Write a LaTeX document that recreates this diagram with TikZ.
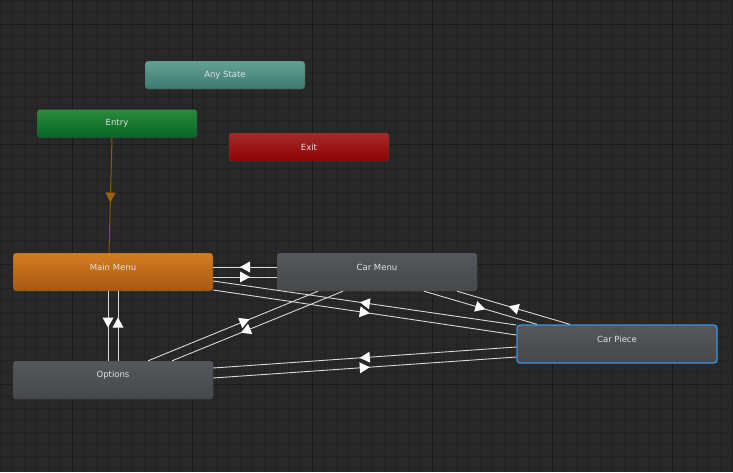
\documentclass[tikz,border=0pt]{standalone}
\usepackage{fontspec}
\setmainfont{DejaVu Sans}
\usetikzlibrary{arrows.meta,decorations.markings,calc}
\definecolor{bg}{HTML}{282828}
\definecolor{minor}{HTML}{222222}
\definecolor{major}{HTML}{1A1A1A}
\definecolor{txt}{HTML}{E2E2E2}
\definecolor{ln}{HTML}{D8D8D8}
\definecolor{anyT}{HTML}{62A393}\definecolor{anyB}{HTML}{3C7870}
\definecolor{entT}{HTML}{2C8A3C}\definecolor{entB}{HTML}{066626}
\definecolor{exT}{HTML}{A52A2A}\definecolor{exB}{HTML}{8E0404}
\definecolor{mmT}{HTML}{D47C22}\definecolor{mmB}{HTML}{A85912}
\definecolor{gT}{HTML}{54575B}\definecolor{gB}{HTML}{46494C}
\definecolor{glow}{HTML}{3A92E0}
\definecolor{entry}{HTML}{8A5A0A}
\tikzset{
  box/.style={rounded corners=3pt, minimum width=200pt, minimum height=38pt, inner sep=0pt, draw=black!70, line width=0.4pt},
  smallbox/.style={box, minimum width=160pt, minimum height=28pt},
  lbl/.style={text=txt, font=\fontsize{8.5}{10}\selectfont, inner sep=0pt},
  trans/.style={draw=ln, line width=0.9pt, postaction={decorate}, decoration={markings, mark=at position #1 with {\fill[white] (5pt,0) -- (-5pt,5.5pt) -- (-5pt,-5.5pt) -- cycle;}}},
  trans/.default=0.5
}
\begin{document}
\begin{tikzpicture}[x=1pt,y=-1pt]
\useasboundingbox (0,0) rectangle (733,472);
\fill[bg] (0,0) rectangle (733,472);
\foreach \i in {0,12,...,732} \draw[minor,line width=1pt] (\i,0) -- (\i,472);
\foreach \i in {0,12,...,468} \draw[minor,line width=1pt] (0,\i) -- (733,\i);
\foreach \i in {72,192,...,732} \draw[major,line width=1pt] (\i,0) -- (\i,472);
\foreach \i in {24,144,...,468} \draw[major,line width=1pt] (0,\i) -- (733,\i);

% nodes
\node[smallbox, top color=anyT, bottom color=anyB] (any) at (225,75) {};
\node[lbl] (anyt) at (225,75) {Any State};
\node[smallbox, top color=entT, bottom color=entB] (entry) at (117,123.5) {};
\node[lbl] (entryt) at (117,123.5) {Entry};
\node[smallbox, top color=exT, bottom color=exB] (exit) at (309,147) {};
\node[lbl] (exitt) at (309,147) {Exit};

\node[box, top color=mmT, bottom color=mmB] (mm) at (113,272) {};
\node[lbl] (mmt) at (113,267) {Main Menu};
\node[box, top color=gT, bottom color=gB] (cm) at (377,272) {};
\node[lbl] (cmt) at (377,267) {Car Menu};
\node[box, top color=gT, bottom color=gB] (opt) at (113,380) {};
\node[lbl] (optt) at (113,375) {Options};
\node[box, draw=glow, line width=1.3pt, top color=gT, bottom color=gB] (cp) at (617,344) {};
\node[lbl] (cpt) at (617,339) {Car Piece};

% entry
\draw[draw=entry, line width=1pt, postaction={decorate}, decoration={markings, mark=at position 0.52 with {\fill[entry!80!orange] (5pt,0) -- (-5pt,5pt) -- (-5pt,-5pt) -- cycle;}}]
  ([xshift=-5pt]entry.south) -- ([xshift=-4pt]mm.north);

% main menu <-> car menu
\draw[trans] ([shift={(0,-5)}]cm.west) -- ([shift={(0,-5)}]mm.east);
\draw[trans] ([shift={(0,5)}]mm.east) -- ([shift={(0,5)}]cm.west);
% main menu <-> options
\draw[trans=0.45] ([xshift=-5pt]mm.south) -- ([xshift=-5pt]opt.north);
\draw[trans=0.55] ([xshift=5pt]opt.north) -- ([xshift=5pt]mm.south);
% options <-> car menu
\draw[trans=0.57] ([xshift=35pt]opt.north) -- ([xshift=-59pt]cm.south);
\draw[trans=0.57] ([xshift=-34pt]cm.south) -- ([xshift=59pt]opt.north);
% main menu <-> car piece
\draw[trans=0.5] ([shift={(0,-19)}]cp.west) -- ([shift={(0,9)}]mm.east);
\draw[trans=0.5] ([shift={(0,18)}]mm.east) -- ([shift={(0,-9)}]cp.west);
% car menu <-> car piece
\draw[trans=0.5] ([xshift=-47pt]cp.north) -- ([xshift=80pt]cm.south);
\draw[trans=0.5] ([xshift=47pt]cm.south) -- ([xshift=-80pt]cp.north);
% options <-> car piece
\draw[trans=0.5] ([shift={(0,3)}]cp.west) -- ([shift={(0,-12)}]opt.east);
\draw[trans=0.5] ([shift={(0,-2)}]opt.east) -- ([shift={(0,13)}]cp.west);
\end{tikzpicture}
\end{document}
